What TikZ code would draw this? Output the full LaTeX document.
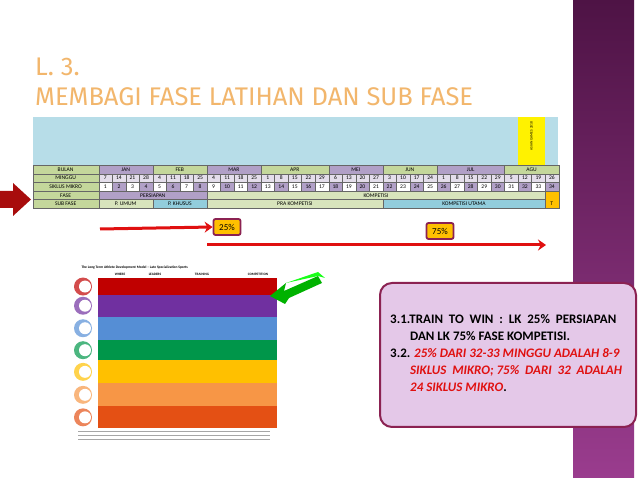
\documentclass[tikz,border=0pt]{standalone}
\usepackage{fontspec}
\setmainfont{Carlito}
\newfontfamily\titlefont{Fira Sans}
\usetikzlibrary{arrows.meta,calc}
\definecolor{skyb}{HTML}{B7DDE8}
\definecolor{lav}{HTML}{B1A0C7}
\definecolor{lgreen}{HTML}{C4D79B}
\definecolor{pgreen}{HTML}{D8E4BC}
\definecolor{cblue}{HTML}{92CDDC}
\definecolor{corange}{HTML}{FFC000}
\definecolor{plum}{HTML}{4E1345}
\definecolor{plumb}{HTML}{9A3C8E}
\definecolor{boxfill}{HTML}{E4C8E8}
\definecolor{boxline}{HTML}{8B2252}
\definecolor{titleor}{HTML}{F2B66C}
\definecolor{arrred}{HTML}{E01010}
\definecolor{bA}{HTML}{C00000}
\definecolor{bB}{HTML}{7030A0}
\definecolor{bC}{HTML}{558ED5}
\definecolor{bD}{HTML}{00964A}
\definecolor{bE}{HTML}{FFC000}
\definecolor{bF}{HTML}{F79646}
\definecolor{bG}{HTML}{E45014}
\tikzset{
 cell/.style={draw=black!60,line width=0.3pt,inner sep=0pt,font=\fontsize{5.6}{6}\selectfont,anchor=north west},
 redarrow/.style={draw=arrred,line width=3pt,-{Stealth[length=8pt,width=11pt]}},
 pct/.style={draw=boxline,line width=1.8pt,fill=corange,rounded corners=2pt,minimum width=27pt,minimum height=16pt,font=\fontsize{9}{10}\selectfont,inner sep=1pt},
 band/.style={minimum width=179pt,inner sep=0pt,anchor=north west,draw=none},
}
\newcommand{\cw}{13.53}
\newcommand{\xs}{98.5}
\begin{document}
\begin{tikzpicture}[x=1pt,y=-1pt]
\useasboundingbox (0,0) rectangle (638,478);
\fill[white] (0,0) rectangle (638,478);
% purple side bar
\shade[top color=plum,bottom color=plumb] (573,0) rectangle (634,478);
% title
\node[anchor=west,font=\titlefont\fontsize{25.5}{27}\selectfont,text=titleor,inner sep=0pt] (t1) at (35,67) {L. 3.};
\node[anchor=west,font=\titlefont\fontsize{25.5}{27}\selectfont,text=titleor,inner sep=0pt] (t2) at (35,97) {MEMBAGI FASE LATIHAN DAN SUB FASE};
% table background
\fill[skyb] (32.5,117) rectangle (558.4,165);
\fill[yellow] ({\xs+31*\cw},117) rectangle ({\xs+33*\cw},165);
\node[rotate=90,font=\fontsize{3.6}{4}\selectfont,anchor=east] (ag) at ({\xs+32*\cw},118) {ASIAN GAMES 2018};
% label column
\foreach \lab/\r in {BULAN/0,MINGGU/1,SIKLUS MIKRO/2,FASE/3,SUB FASE/4}{
  \node[cell,fill=lgreen,minimum width=66pt,minimum height=8.6pt] (lab\r) at (32.5,{165+\r*8.6}) {\lab};
}
% months
\foreach \m/\s/\n/\c [count=\k] in {JAN/0/4/lav,FEB/4/4/lgreen,MAR/8/4/lav,APR/12/5/lgreen,MEI/17/4/lav,JUN/21/4/lgreen,JUL/25/5/lav,AGU/30/4/lgreen}{
  \node[cell,fill=\c,minimum width={\n*\cw*1pt},minimum height=8.6pt] (mon\k) at ({\xs+\s*\cw},165) {\m};
}
% weeks and cycles
\foreach \w [count=\i] in {7,14,21,28,4,11,18,25,4,11,18,25,1,8,15,22,29,6,13,20,27,3,10,17,24,1,8,15,22,29,5,12,19,26}{
  \pgfmathsetmacro{\col}{mod(\i,2)==0 ? "lav" : "white"}
  \node[cell,fill=lav!35,minimum width=\cw pt,minimum height=8.6pt] (wk\i) at ({\xs+(\i-1)*\cw},173.6) {\w};
  \node[cell,fill=\col,minimum width=\cw pt,minimum height=8.6pt] (sm\i) at ({\xs+(\i-1)*\cw},182.2) {\i};
}
% fase
\node[cell,fill=lav,minimum width={8*\cw*1pt},minimum height=8.6pt] (per) at (\xs,190.8) {PERSIAPAN};
\node[cell,fill=pgreen,minimum width={25*\cw*1pt},minimum height=8.6pt] (kom) at ({\xs+8*\cw},190.8) {KOMPETISI};
\node[cell,fill=corange,minimum width=\cw pt,minimum height=17.2pt,anchor=north west] (tt) at ({\xs+33*\cw},190.8) {};
\node[font=\fontsize{5.6}{6}\selectfont] (tlab) at ({\xs+33.5*\cw},203.7) {T};
% sub fase
\node[cell,fill=pgreen,minimum width={4*\cw*1pt},minimum height=8.6pt] (pu) at (\xs,199.4) {P. UMUM};
\node[cell,fill=cblue,minimum width={4*\cw*1pt},minimum height=8.6pt] (pk) at ({\xs+4*\cw},199.4) {P. KHUSUS};
\node[cell,fill=pgreen,minimum width={13*\cw*1pt},minimum height=8.6pt] (pra) at ({\xs+8*\cw},199.4) {PRA KOMPETISI};
\node[cell,fill=cblue,minimum width={12*\cw*1pt},minimum height=8.6pt] (ku) at ({\xs+21*\cw},199.4) {KOMPETISI UTAMA};
% big red arrow
\fill[arrred!75!black] (0,191) -- (13,191) -- (13,183) -- (31,199.5) -- (13,216) -- (13,208) -- (0,208) -- cycle;
% percentage boxes and arrows
\node[pct] (p25) at (227,227) {25\%};
\node[pct] (p75) at (440,231) {75\%};
\coordinate (a1s) at (100,229);
\coordinate (a2s) at (207,245);
\coordinate (a2e) at (546,245);
\draw[redarrow] (a1s) -- (p25.west);
\draw[redarrow] (a2s) -- (a2e);
% text box
\node[draw=boxline,line width=2pt,fill=boxfill,rounded corners=12pt,minimum width=256pt,minimum height=144pt,anchor=north west] (tb) at (379,282) {};
\node[anchor=north west,text width=236pt,font=\bfseries\fontsize{13}{17}\selectfont,align=justify,inner sep=0pt] (tx) at (390,314) {%
3.1.TRAIN\ \ TO\ \ WIN\ \ :\ \ LK\ \ 25\%\ \ PERSIAPAN\par
\hspace*{20pt}DAN LK 75\% FASE KOMPETISI.\par
3.2. {\color{arrred}\itshape 25\% DARI 32-33 MINGGU ADALAH 8-9}\par
\hspace*{20pt}{\color{arrred}\itshape SIKLUS\ \ MIKRO;\ 75\%\ \ DARI\ \ 32\ \ ADALAH}\par
\hspace*{20pt}{\color{arrred}\itshape 24 SIKLUS MIKRO}.};
% LTAD figure
\node[anchor=west,font=\bfseries\fontsize{3.6}{4}\selectfont] (lt) at (78,268) {The Long Term Athlete Development Model -- Late Specialization Sports};
\foreach \h/\x in {WHERE/120,LEADERS/155,TRAINING/202,COMPETITION/258}{
  \node[font=\bfseries\fontsize{3.4}{4}\selectfont] (h\x) at (\x,274) {\h};
}
\foreach \c/\y/\hh [count=\k] in {bA/278/16.7,bB/294.7/21.7,bC/316.4/23.3,bD/339.7/20.6,bE/360.3/22.7,bF/383/23.3,bG/406.3/21.7}{
  \node[band,fill=\c,minimum height=\hh pt] (b\k) at (98,\y) {};
  \fill[\c!70] ($(b\k.west)+(-15,0)$) circle (9);
  \fill[white] ($(b\k.west)+(-13,0)$) circle (6);
}
\foreach \y in {431,435,439}{\fill[black!35] (78,\y) rectangle (270,\y+1.2);}
% green arrow
\fill[green!70!black] (270,296) -- (286,283) -- (284,291) -- (318,276) -- (322,283) -- (289,298) -- (285,304) -- cycle;
\fill[green!90] (286,283) -- (318,272) -- (325,278) -- (318,276) -- cycle;
\end{tikzpicture}
\end{document}
